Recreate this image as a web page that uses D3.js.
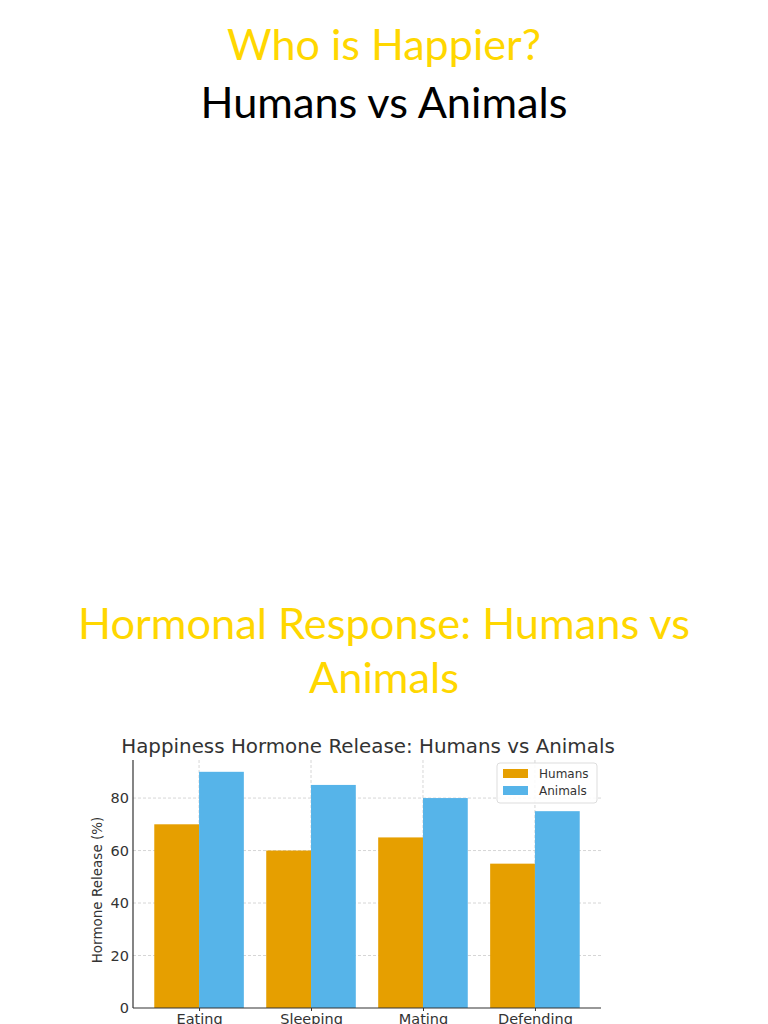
<!DOCTYPE html>
<html>
<head>
<meta charset="utf-8">
<script src="https://cdn.jsdelivr.net/npm/d3@7"></script>
<style>
  html, body { margin: 0; padding: 0; background: #fff; }
  svg { display: block; }
</style>
</head>
<body>
<div id="page"></div>
<script>
// chart data
const categories = ['Eating', 'Sleeping', 'Mating', 'Defending'];
const seriesNames = ['Humans', 'Animals'];
const humans = [70, 60, 65, 55];
const animals = [90, 85, 80, 75];
const yTicks = [0, 20, 40, 60, 80];
const colors = ['#E69F00', '#56B4E9'];

const W = 768, H = 1024;
const svg = d3.select('#page').append('svg').attr('width', W).attr('height', H);

// fit a text to a target width by changing its font size
function fitText(sel, targetWidth) {
  const fs = parseFloat(sel.attr('font-size'));
  const w = sel.node().getComputedTextLength();
  sel.attr('font-size', (fs * targetWidth / w).toFixed(2));
  return sel;
}

// slide headings
const slideFont = 'Lato, "Open Sans", sans-serif';
fitText(svg.append('text').attr('x', W / 2).attr('y', 60).attr('text-anchor', 'middle')
  .attr('font-family', slideFont).attr('font-size', 40).attr('fill', '#FFD700')
  .text('Who is Happier?'), 314);
fitText(svg.append('text').attr('x', W / 2).attr('y', 118).attr('text-anchor', 'middle')
  .attr('font-family', slideFont).attr('font-size', 40).attr('fill', '#000')
  .text('Humans vs Animals'), 367);
fitText(svg.append('text').attr('x', W / 2).attr('y', 639).attr('text-anchor', 'middle')
  .attr('font-family', slideFont).attr('font-size', 44).attr('fill', '#FFD700')
  .text('Hormonal Response: Humans vs'), 612);
fitText(svg.append('text').attr('x', W / 2).attr('y', 693).attr('text-anchor', 'middle')
  .attr('font-family', slideFont).attr('font-size', 44).attr('fill', '#FFD700')
  .text('Animals'), 150);

// chart (matplotlib style)
const chartFont = '"DejaVu Sans", sans-serif';
const margin = { left: 133, right: 601, top: 760, bottom: 1008 };
const axisColor = '#333';

// x domain like matplotlib: bars from -0.4 to 3.4 with 5% margins
const x = d3.scaleLinear().domain([-0.59, categories.length - 1 + 0.59]).range([margin.left, margin.right]);
const y = d3.scaleLinear().domain([0, d3.max(animals) * 1.05]).range([margin.bottom, margin.top]);
const barW = 0.4;

const chart = svg.append('g');

// grid
chart.append('g').selectAll('line.hg').data(yTicks.filter(d => d > 0)).enter().append('line')
  .attr('x1', margin.left).attr('x2', margin.right)
  .attr('y1', d => y(d)).attr('y2', d => y(d))
  .attr('stroke', '#ccc').attr('stroke-width', 0.8).attr('stroke-dasharray', '3,2');
chart.append('g').selectAll('line.vg').data(categories).enter().append('line')
  .attr('x1', (d, i) => x(i)).attr('x2', (d, i) => x(i))
  .attr('y1', margin.top).attr('y2', margin.bottom)
  .attr('stroke', '#ccc').attr('stroke-width', 0.8).attr('stroke-dasharray', '3,2');

// bars
const series = [humans, animals];
series.forEach((vals, s) => {
  chart.append('g').selectAll('rect').data(vals).enter().append('rect')
    .attr('x', (d, i) => x(i + (s - 1) * barW))
    .attr('width', x(barW) - x(0))
    .attr('y', d => y(d))
    .attr('height', d => y(0) - y(d))
    .attr('fill', colors[s]);
});

// axes
const yAxis = chart.append('g').attr('transform', `translate(${margin.left},0)`)
  .call(d3.axisLeft(y).tickValues(yTicks).tickSize(0).tickPadding(4));
const xAxis = chart.append('g').attr('transform', `translate(0,${margin.bottom})`)
  .call(d3.axisBottom(x).tickValues(d3.range(categories.length)).tickFormat(i => categories[i]).tickSize(3).tickPadding(3));
[yAxis, xAxis].forEach(a => {
  a.select('.domain').attr('stroke', axisColor).attr('stroke-width', 1.2);
  a.selectAll('.tick line').attr('stroke', axisColor);
  a.selectAll('.tick text').attr('fill', '#333').attr('font-family', chartFont).attr('font-size', 14.5);
});
// only left/bottom spines; trim the outer tick ends
yAxis.select('.domain').attr('d', `M0,${margin.top}V${margin.bottom}`);
xAxis.select('.domain').attr('d', `M${margin.left},0H${margin.right}`);

// y axis label
chart.append('text')
  .attr('transform', `translate(102,${(margin.top + margin.bottom) / 2 + 6}) rotate(-90)`)
  .attr('text-anchor', 'middle').attr('font-family', chartFont).attr('font-size', 13.5)
  .attr('fill', '#333').text('Hormone Release (%)');

// title
fitText(chart.append('text').attr('x', 368).attr('y', 753).attr('text-anchor', 'middle')
  .attr('font-family', chartFont).attr('font-size', 17).attr('fill', '#333')
  .text('Happiness Hormone Release: Humans vs Animals'), 494);

// legend
const lg = chart.append('g').attr('transform', 'translate(497,763)');
lg.append('rect').attr('width', 100).attr('height', 40).attr('rx', 3)
  .attr('fill', '#fff').attr('fill-opacity', 0.85).attr('stroke', '#ddd');
seriesNames.forEach((name, i) => {
  lg.append('rect').attr('x', 6).attr('y', 6 + i * 17).attr('width', 25).attr('height', 9).attr('fill', colors[i]);
  lg.append('text').attr('x', 42).attr('y', 14.5 + i * 17).attr('font-family', chartFont)
    .attr('font-size', 12).attr('fill', '#333').text(name);
});
</script>
</body>
</html>
